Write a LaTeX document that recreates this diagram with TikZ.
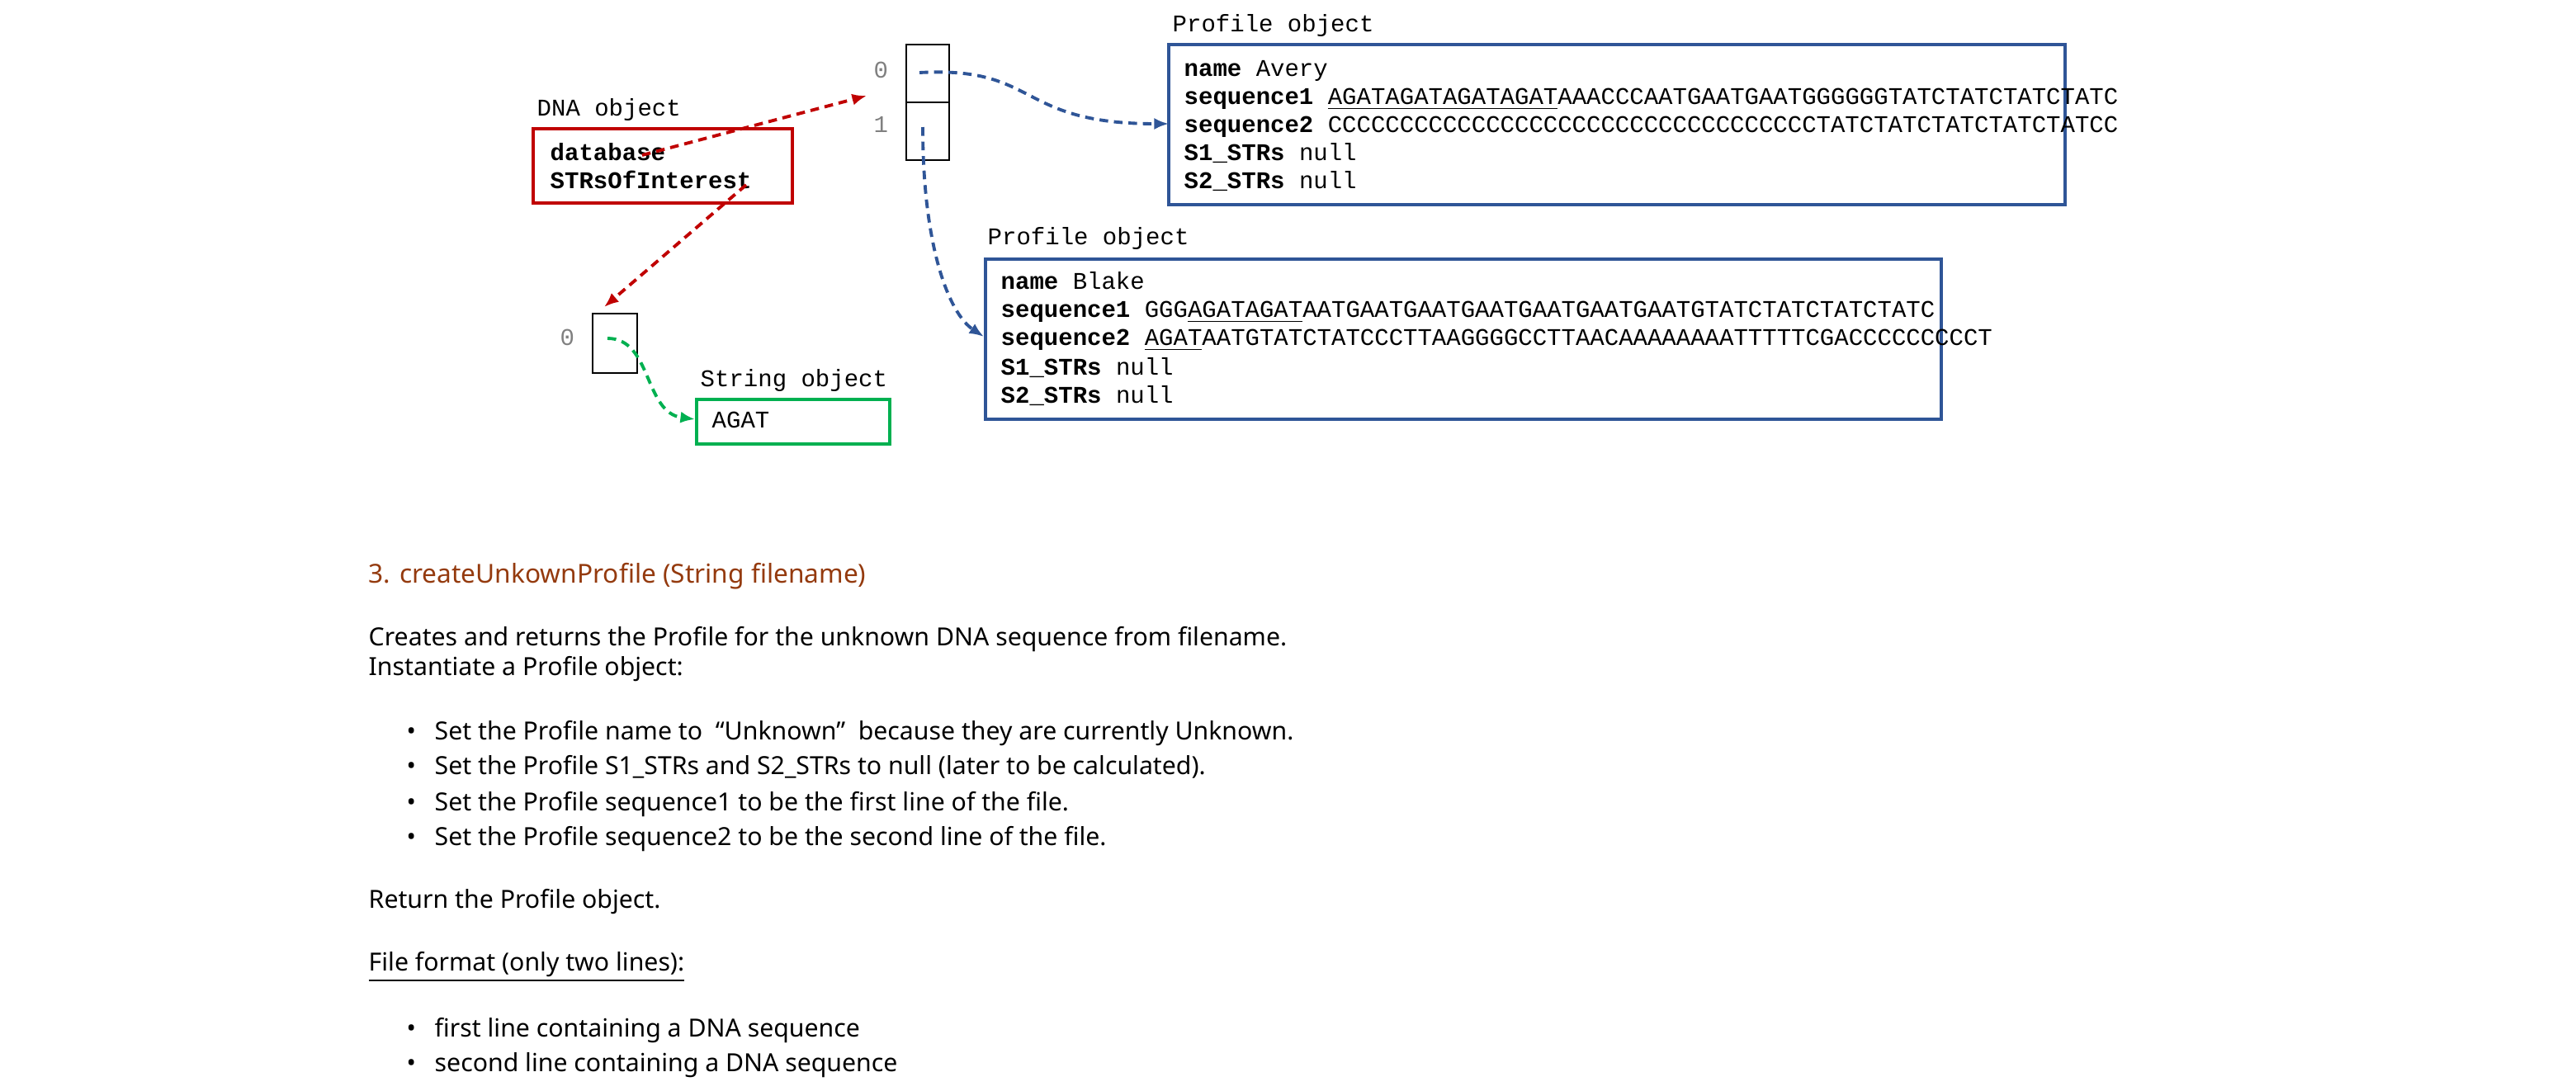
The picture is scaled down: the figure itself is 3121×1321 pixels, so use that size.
\documentclass[tikz,border=0pt]{standalone}
\usepackage{fontspec}
\setmainfont{Noto Sans}
\newfontfamily\mono{Liberation Mono}
\usetikzlibrary{arrows.meta}
\definecolor{dnared}{HTML}{C00000}
\definecolor{pblue}{HTML}{2F5597}
\definecolor{sgreen}{HTML}{00B050}
\definecolor{head}{HTML}{943A0E}
\begin{document}
\begin{tikzpicture}[x=0.01cm,y=-0.01cm,
  m/.style={anchor=base west,inner sep=0,font=\mono\fontsize{8.25}{10}\selectfont},
  t/.style={anchor=base west,inner sep=0,font=\fontsize{8.6}{10}\selectfont},
  box/.style={draw,line width=1.2pt},
  cell/.style={draw,line width=0.8pt},
  ptr/.style={dashed,line width=1.1pt,dash pattern=on 3pt off 2pt,-{Latex[length=5pt,width=4pt]}}]
\useasboundingbox (0,0) rectangle (3121,1321);
% array
\draw[cell] (1098,54) rectangle (1150,194);
\draw[cell] (1098,124) -- (1150,124);
\node[m,gray] (i0) at (1058,94) {0};
\node[m,gray] (i1) at (1058,160) {1};
% DNA object
\node[m] (dnal) at (650,140) {DNA object};
\draw[box,dnared] (646,156) rectangle (960,246);
\node[m] (db) at (666,194) {\bfseries database};
\node[m] (str) at (666,228) {\bfseries STRsOfInterest};
% Avery
\node[m] (al) at (1420,38) {Profile object};
\draw[box,pblue] (1416,54) rectangle (2502,248);
\node[m] (a1) at (1434,92) {\textbf{name} Avery};
\node[m] (a2) at (1434,126) {\textbf{sequence1} \underline{AGATAGATAGATAGAT}AAACCCAATGAATGAATGGGGGGTATCTATCTATCTATC};
\node[m] (a3) at (1434,160) {\textbf{sequence2} CCCCCCCCCCCCCCCCCCCCCCCCCCCCCCCCCCTATCTATCTATCTATCTATCC};
\node[m] (a4) at (1434,194) {\textbf{S1\_STRs} null};
\node[m] (a5) at (1434,228) {\textbf{S2\_STRs} null};
\coordinate (at) at (1416,150);
% Blake
\node[m] (bl) at (1196,296) {Profile object};
\draw[box,pblue] (1194,314) rectangle (2352,508);
\node[m] (b1) at (1212,350) {\textbf{name} Blake};
\node[m] (b2) at (1212,384) {\textbf{sequence1} GGG\underline{AGATAGAT}AATGAATGAATGAATGAATGAATGAATGTATCTATCTATCTATC};
\node[m] (b3) at (1212,418) {\textbf{sequence2} \underline{AGAT}AATGTATCTATCCCTTAAGGGGCCTTAACAAAAAAAATTTTTCGACCCCCCCCCT};
\node[m] (b4) at (1212,454) {\textbf{S1\_STRs} null};
\node[m] (b5) at (1212,488) {\textbf{S2\_STRs} null};
\coordinate (bt) at (1192,408);
% small array
\draw[cell] (718,380) rectangle (772,452);
\node[m,gray] (s0) at (678,418) {0};
% String
\node[m] (sl) at (848,468) {String object};
\draw[box,sgreen] (844,484) rectangle (1078,538);
\node[m] (sv) at (862,518) {AGAT};
% pointers
\coordinate (p0) at (1114,88); \coordinate (p1) at (1118,154);
\coordinate (q0) at (736,410); \coordinate (arrT) at (1050,116);
\coordinate (sT) at (732,372); \coordinate (gT) at (842,508);
\coordinate (dbE) at (778,188); \coordinate (stE) at (904,224);
\draw[ptr,dnared] (dbE) -- (arrT);
\draw[ptr,dnared] (stE) -- (sT);
\draw[ptr,pblue] (p0) .. controls (1260,80) and (1230,150) .. (at);
\draw[ptr,pblue] (p1) .. controls (1118,300) and (1150,380) .. (bt);
\draw[ptr,sgreen] (q0) .. controls (790,410) and (780,500) .. (gT);
% text
\node[t,font=\bfseries\fontsize{9}{10}\selectfont,text=head] (h) at (446,706) {3. createUnkownProfile (String filename)};
\node[t] (p1t) at (446,782) {Creates and returns the Profile for the unknown DNA sequence from filename.};
\node[t] (p2t) at (446,818) {Instantiate a Profile object:};
\foreach \yy/\tx [count=\k] in {896/{Set the Profile name to \ “Unknown”\ \ because they are currently Unknown.},
  938/{Set the Profile S1\_STRs and S2\_STRs to null (later to be calculated).},
  982/{Set the Profile sequence1 to be the first line of the file.},
  1024/{Set the Profile sequence2 to be the second line of the file.}}{
  \node[t] (bu\k) at (492,\yy) {\textbullet};
  \node[t] (bt\k) at (526,\yy) {\tx};}
\node[t] (ret) at (446,1100) {Return the Profile object.};
\node[t] (ff) at (446,1176) {\underline{File format (only two lines):}};
\foreach \yy/\tx [count=\k] in {1256/{first line containing a DNA sequence},1298/{second line containing a DNA sequence}}{
  \node[t] (cu\k) at (492,\yy) {\textbullet};
  \node[t] (ct\k) at (526,\yy) {\tx};}
\end{tikzpicture}
\end{document}
